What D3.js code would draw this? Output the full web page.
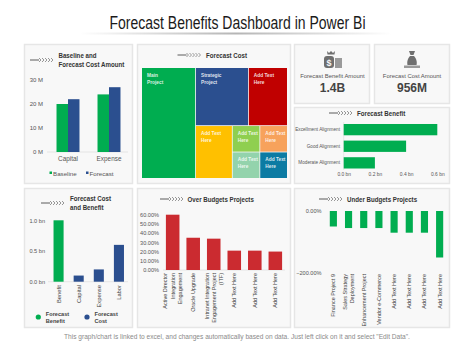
<!DOCTYPE html>
<html>
<head>
<meta charset="utf-8">
<script src="https://cdn.jsdelivr.net/npm/d3@7"></script>
<style>
  html, body { margin: 0; padding: 0; background: #fff; }
  svg { display: block; }
  text { font-family: "Liberation Sans", Arial, sans-serif; }
</style>
</head>
<body>
<div id="chart"></div>
<script>
// baseline vs forecast cost
const costCategories = ["Capital", "Expense"]
const costSeries = ["Baseline", "Forecast"]
const baselineValues = [20, 24]
const forecastValues = [22, 27]
const costTicks = [0, 10, 20, 30]

// treemap
const treeNames = ["Main Project", "Strategic Project", "Add Text Here", "Add Text Here", "Add Text Here", "Add Text Here", "Add Text Here", "Add Text Here"]
const treeValues = [37, 19, 14, 12, 4.5, 4.5, 4.5, 4.5]

// cards
const cardLabels = ["Forecast Benefit Amount", "Forecast Cost Amount"]
const cardValues = ["1.4B", "956M"]

// forecast benefit
const alignNames = ["Excellment Alignment", "Good Alignment", "Moderate Alignment"]
const alignValues = [0.6, 0.4, 0.2]
const alignTicks = [0, 0.2, 0.4, 0.6]

// forecast cost and benefit
const cbNames = ["Benefit", "Capital", "Expense", "Labor"]
const cbValues = [1.0, 0.1, 0.2, 0.6]
const cbTicks = [0, 0.5, 1.0]

// over budget
const overNames = [["Active Director", "Integration", "Engagement"], ["Oracle Upgrade"], ["Intranet Integration", "Engagement Project", "(ITF)"], ["Add Text Here"], ["Add Text Here"], ["Add Text Here"]]
const overValues = [60, 35, 34, 21, 21, 20]
const overTicks = [0, 10, 20, 30, 40, 50, 60]

// under budget
const underNames = [["Finance Project 9"], ["Sales Strategy", "Deployment"], ["Enhancement Project"], ["Vendor e-Commerce"], ["Add Text Here"], ["Add Text Here"], ["Add Text Here"], ["Add Text Here"]]
const underValues = [-50, -55, -55, -55, -70, -70, -70, -150]
const underTicks = [0, -200]

const c_green = "#00ad50", c_blue = "#2b4f8f", c_red = "#cb2b30"
const c_text = "#555"

const svg = d3.select("#chart").append("svg").attr("width", 474).attr("height", 355)

// no narrow face is installed, so squeeze the glyphs to get the same look
function narrow(sel, factor) {
  sel.each(function() {
    this.setAttribute("textLength", this.getComputedTextLength() * factor)
    this.setAttribute("lengthAdjust", "spacingAndGlyphs")
  })
  return sel
}

// title
const grad = svg.append("defs").append("linearGradient").attr("id", "rule")
grad.append("stop").attr("offset", "0%").attr("stop-color", "#fff")
grad.append("stop").attr("offset", "50%").attr("stop-color", "#b5b5b5")
grad.append("stop").attr("offset", "100%").attr("stop-color", "#fff")
svg.append("rect").attr("x", 80).attr("y", 32.5).attr("width", 312).attr("height", 2).attr("fill", "url(#rule)")
svg.append("text").attr("x", 237.5).attr("y", 28.5).attr("text-anchor", "middle")
  .style("font-size", "17.5px").attr("fill", "#1a1a1a").text("Forecast Benefits Dashboard in Power Bi")
  .call(narrow, .8)

svg.append("text").attr("x", 237).attr("y", 339).attr("text-anchor", "middle")
  .style("font-size", "6.6px").attr("fill", "#8a8a8a")
  .text('This graph/chart is linked to excel, and changes automatically based on data. Just left click on it and select "Edit Data".')

const panels = [[24, 44, 109, 140], [137, 44, 154, 140], [294, 44, 76, 60], [374, 44, 76, 60], [294, 107, 156, 77], [24, 188, 109, 140], [137, 188, 154, 140], [294, 188, 156, 140]]
panels.forEach(p => {
  svg.append("rect").attr("x", p[0] + .5).attr("y", p[1] + .5).attr("width", p[2] - 1).attr("height", p[3] - 1)
    .attr("fill", "#f8f8f8").attr("stroke", "#e6e6e6").attr("stroke-width", 1.5)
})

function header(arrowX, y, lines, textX) {
  svg.append("line").attr("x1", arrowX).attr("x2", arrowX + 9).attr("y1", y).attr("y2", y).attr("stroke", "#333").attr("stroke-width", .8)
  d3.range(5).forEach(i => {
    const x = arrowX + 9 + i * 3
    svg.append("path").attr("d", `M${x},${y - 2}L${x + 2},${y}L${x},${y + 2}`).attr("fill", "none").attr("stroke", "#555").attr("stroke-width", .6)
  })
  const dy = lines.length > 1 ? -4.5 : 0
  lines.forEach((l, i) => {
    svg.append("text").attr("x", textX).attr("y", y + dy + i * 9 + 2.5)
      .style("font-size", "7.6px").style("font-weight", "bold").attr("fill", "#333").text(l)
      .call(narrow, .81)
  })
}

function styleAxis(g, size) {
  g.select(".domain").remove()
  g.selectAll("line").remove()
  g.selectAll("text").style("font-size", size + "px").attr("fill", c_text)
}

function baseline(x1, x2, y) {
  svg.append("line").attr("x1", x1).attr("x2", x2).attr("y1", y).attr("y2", y).attr("stroke", "#ddd").attr("stroke-width", .7)
}

// rotated category labels, wrapped lines run side by side
function rotatedLabels(scale, names, top, size) {
  names.forEach((lines, i) => {
    const cx = scale(i) + scale.bandwidth() / 2
    lines.forEach((l, j) => {
      const off = (j - (lines.length - 1) / 2) * 7.2
      svg.append("text").attr("transform", `translate(${cx + off + 2},${top}) rotate(-90)`)
        .attr("text-anchor", "end").style("font-size", size + "px").attr("fill", "#444").text(l)
    })
  })
}

// ---- baseline and forecast cost
header(30, 60, ["Baseline and", "Forecast Cost Amount"], 58.5)
{
  const x = d3.scaleBand().domain(costCategories).range([47.5, 129.5]).paddingInner(.44).paddingOuter(.22)
  const x1 = d3.scaleBand().domain(costSeries).range([0, x.bandwidth()])
  const y = d3.scaleLinear().domain([0, 30]).range([152, 80])
  baseline(47, 128, 152)
  const color = d3.scaleOrdinal().domain(costSeries).range([c_green, c_blue])
  costSeries.forEach((s, k) => {
    const vals = k == 0 ? baselineValues : forecastValues
    svg.append("g").selectAll("rect").data(vals).enter().append("rect")
      .attr("x", (d, i) => x(costCategories[i]) + x1(s))
      .attr("y", d => y(d)).attr("width", x1.bandwidth()).attr("height", d => y(0) - y(d))
      .attr("fill", color(s))
  })
  svg.append("g").attr("transform", "translate(43,0)")
    .call(d3.axisLeft(y).tickValues(costTicks).tickFormat(d => d + " M").tickSize(0).tickPadding(0))
    .call(g => styleAxis(g, 6))
  svg.append("g").attr("transform", "translate(0,154)")
    .call(d3.axisBottom(x).tickSize(0).tickPadding(2))
    .call(g => styleAxis(g, 6.4))
  const legendX = [49.5, 86]
  costSeries.forEach((s, k) => {
    svg.append("rect").attr("x", legendX[k]).attr("y", 171.5).attr("width", 2.5).attr("height", 2.5).attr("fill", color(s))
    svg.append("text").attr("x", legendX[k] + 3.5).attr("y", 175.5).style("font-size", "6.2px").attr("fill", c_text).text(s)
  })
}

// ---- treemap
header(177.5, 55, ["Forecast Cost"], 206)
{
  const treeColors = [c_green, c_blue, "#c00000", "#ffc000", "#8fcf50", "#f7a25c", "#93d3ac", "#0c7ba3"]
  const leaf = i => ({name: treeNames[i], value: treeValues[i], color: treeColors[i]})
  const root = d3.hierarchy({children: [
    leaf(0),
    {children: [
      {children: [leaf(1), leaf(2)]},
      {children: [leaf(3), {children: [
        {children: [leaf(4), leaf(5)]},
        {children: [leaf(6), leaf(7)]}
      ]}]}
    ]}
  ]}).sum(d => d.value || 0)
  d3.treemap().size([145, 110]).paddingInner(.8).tile(d3.treemapSliceDice)
    .round(false)(root)
  const g = svg.append("g").attr("transform", "translate(142,68)")
  const cell = g.selectAll("g").data(root.leaves()).enter().append("g")
    .attr("transform", d => `translate(${d.x0},${d.y0})`)
  cell.append("rect").attr("width", d => d.x1 - d.x0).attr("height", d => d.y1 - d.y0).attr("fill", d => d.data.color)
  cell.each(function(d) {
    const words = d.data.name.split(" ")
    const lines = d.data.name == "Add Text Here" ? ["Add Text", "Here"] : words
    lines.forEach((l, i) => {
      d3.select(this).append("text").attr("x", 5).attr("y", 8.5 + i * 7)
        .style("font-size", "6px").style("font-weight", "bold")
        .attr("fill", "#fff").attr("fill-opacity", .85).text(l)
        .call(narrow, .8)
    })
  })
}

// ---- cards
const cardCenters = [332.5, 412]
cardLabels.forEach((l, i) => {
  svg.append("text").attr("x", cardCenters[i]).attr("y", 77.5).attr("text-anchor", "middle")
    .style("font-size", "5.9px").attr("fill", c_text).text(l)
  svg.append("text").attr("x", cardCenters[i]).attr("y", 92).attr("text-anchor", "middle")
    .style("font-size", "12px").style("font-weight", "bold").attr("fill", "#444").text(cardValues[i])
})
// money stack icon
{
  const g = svg.append("g").attr("transform", "translate(324,51)").attr("fill", "#6f6f6f")
  g.append("path").attr("d", "M3,0L5,2L7,0L9,2L11,0L10.5,3.5L3.5,3.5Z")
  g.append("rect").attr("x", 0).attr("y", 5).attr("width", 10).attr("height", 12).attr("rx", 3)
  g.append("text").attr("x", 5).attr("y", 15).attr("text-anchor", "middle").style("font-size", "9px").style("font-weight", "bold").attr("fill", "#f8f8f8").text("$")
  g.append("rect").attr("x", 11).attr("y", 7).attr("width", 7).attr("height", 10).attr("fill", "#9a9a9a")
}
// money bag icon
{
  const g = svg.append("g").attr("transform", "translate(404,51)").attr("fill", "#6f6f6f")
  g.append("path").attr("d", "M5,0L11,0L9.5,4L6.5,4Z")
  g.append("path").attr("d", "M6,5L10,5C13,8 13,12 12.5,14L3.5,14C3,12 3,8 6,5Z")
  g.append("rect").attr("x", 0).attr("y", 14.5).attr("width", 16).attr("height", 2.5).attr("fill", "#9a9a9a")
}

// ---- forecast benefit
header(329, 113, ["Forecast Benefit"], 357)
{
  const x = d3.scaleLinear().domain([0, 0.6]).range([343.7, 437.3])
  const y = d3.scaleBand().domain(alignNames).range([121.5, 171]).paddingInner(.32).paddingOuter(.15)
  svg.append("line").attr("x1", x(0)).attr("x2", x(0)).attr("y1", 122).attr("y2", 170).attr("stroke", "#ddd").attr("stroke-width", .6)
  svg.append("g").selectAll("rect").data(alignValues).enter().append("rect")
    .attr("x", x(0)).attr("y", (d, i) => y(alignNames[i]))
    .attr("width", d => x(d) - x(0)).attr("height", y.bandwidth()).attr("fill", c_green)
  svg.append("g").attr("transform", "translate(340,0)")
    .call(d3.axisLeft(y).tickSize(0).tickPadding(0))
    .call(g => styleAxis(g, 4.7))
  svg.append("g").attr("transform", "translate(0,172)")
    .call(d3.axisBottom(x).tickValues(alignTicks).tickFormat(d => d3.format(".1f")(d) + " bn").tickSize(0).tickPadding(1))
    .call(g => styleAxis(g, 4.9))
}

// ---- forecast cost and benefit
header(41, 203, ["Forecast Cost", "and Benefit"], 70)
{
  const x = d3.scaleBand().domain(d3.range(cbNames.length)).range([48.5, 129]).paddingInner(.5).paddingOuter(.25)
  const y = d3.scaleLinear().domain([0, 1]).range([281.7, 220.3])
  baseline(48, 128, 281.7)
  svg.append("g").selectAll("rect").data(cbValues).enter().append("rect")
    .attr("x", (d, i) => x(i)).attr("y", d => y(d)).attr("width", x.bandwidth()).attr("height", d => y(0) - y(d))
    .attr("fill", (d, i) => i == 0 ? c_green : c_blue)
  svg.append("g").attr("transform", "translate(45,0)")
    .call(d3.axisLeft(y).tickValues(cbTicks).tickFormat(d => d3.format(".1f")(d) + " bn").tickSize(0).tickPadding(0))
    .call(g => styleAxis(g, 5.6))
  rotatedLabels(x, cbNames.map(d => [d]), 285, 5.8)
  const legend = [[38.3, ["Forecast", "Benefit"], c_green], [87, ["Forecast", "Cost"], c_blue]]
  legend.forEach(l => {
    svg.append("circle").attr("cx", l[0]).attr("cy", 317).attr("r", 2.6).attr("fill", l[2])
    l[1].forEach((t, i) => {
      svg.append("text").attr("x", l[0] + 7.5).attr("y", 316 + i * 6.7).style("font-size", "5.6px").style("font-weight", "bold").attr("fill", "#444").text(t)
    })
  })
}

// ---- over budgets
header(160, 199, ["Over Budgets Projects"], 187.5)
{
  const x = d3.scaleBand().domain(d3.range(overNames.length)).range([162, 286]).paddingInner(.34).paddingOuter(.19)
  const y = d3.scaleLinear().domain([0, 60]).range([270, 214.7])
  baseline(163, 285, 270)
  svg.append("g").selectAll("rect").data(overValues).enter().append("rect")
    .attr("x", (d, i) => x(i)).attr("y", d => y(d)).attr("width", x.bandwidth()).attr("height", d => y(0) - y(d))
    .attr("fill", c_red)
  svg.append("g").attr("transform", "translate(159,0)")
    .call(d3.axisLeft(y).tickValues(overTicks).tickFormat(d => d3.format(".2f")(d) + "%").tickSize(0).tickPadding(0))
    .call(g => styleAxis(g, 5.6))
  rotatedLabels(x, overNames, 273, 5.5)
}

// ---- under budgets
header(319, 199, ["Under Budgets Projects"], 347)
{
  const x = d3.scaleBand().domain(d3.range(underNames.length)).range([326, 447]).paddingInner(.53).paddingOuter(.25)
  const y = d3.scaleLinear().domain([0, -200]).range([211, 273])
  svg.append("g").selectAll("rect").data(underValues).enter().append("rect")
    .attr("x", (d, i) => x(i)).attr("y", y(0)).attr("width", x.bandwidth()).attr("height", d => y(d) - y(0))
    .attr("fill", c_green)
  svg.append("g").attr("transform", "translate(321.5,0)")
    .call(d3.axisLeft(y).tickValues(underTicks).tickFormat(d => d3.format(".2f")(d) + "%").tickSize(0).tickPadding(0))
    .call(g => styleAxis(g, 5.6))
  rotatedLabels(x, underNames, 274, 5.5)
}
</script>
</body>
</html>
